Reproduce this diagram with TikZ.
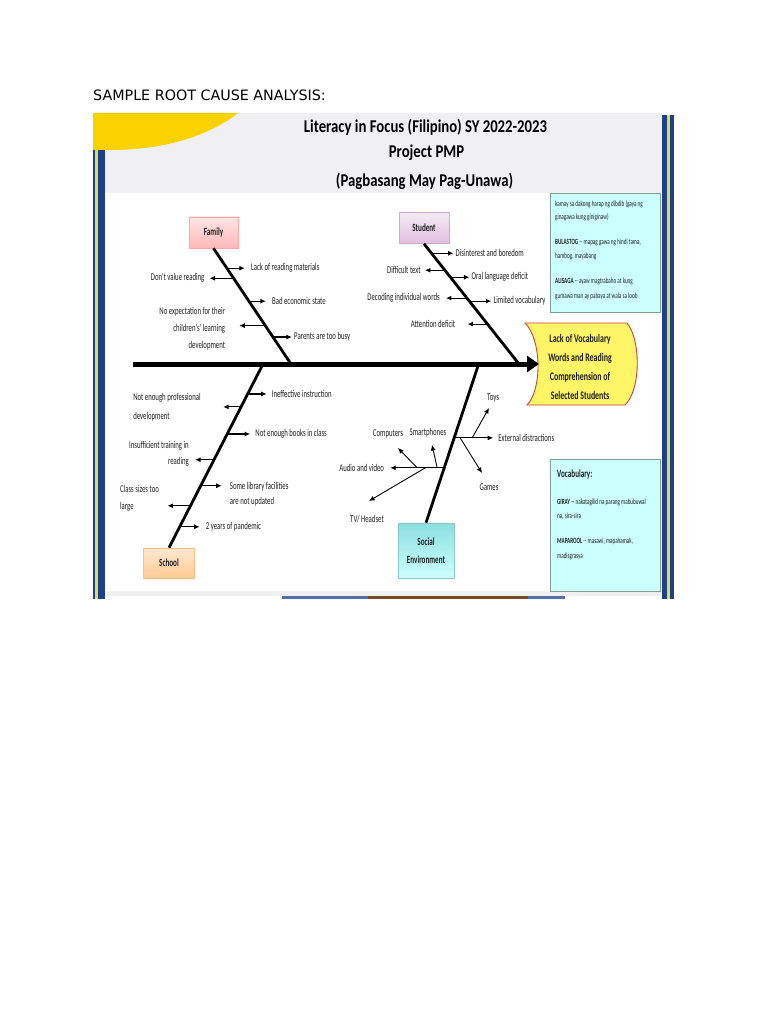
\documentclass[tikz,border=0pt]{standalone}
\usepackage{fontspec}
\setmainfont{Carlito}
\newfontfamily\cf[FakeStretch=0.65]{Carlito}
\newfontfamily\cfe[FakeStretch=0.68]{Carlito}
\newfontfamily\cft[FakeStretch=0.82]{Carlito}
\newfontfamily\hdr{DejaVu Sans}
\usetikzlibrary{arrows.meta,calc}
\definecolor{navy}{HTML}{1F3F8C}
\definecolor{bstripe}{HTML}{D9E04A}
\definecolor{topyel}{HTML}{FAD200}
\definecolor{hdrgray}{HTML}{F0F0F2}
\definecolor{effY}{HTML}{FFF566}
\definecolor{effR}{HTML}{C8423C}
\definecolor{vocF}{HTML}{CCFFFF}
\definecolor{vocD}{HTML}{7FA08A}
\definecolor{txt}{HTML}{1E1E1E}
\tikzset{
  lbl/.style={font=\cf\fontsize{10.4}{17}\selectfont, inner sep=0pt, text=txt},
  arr/.style={-{Latex[length=5.5pt,width=5pt]}, line width=1.1pt},
  sarr/.style={-{Latex[length=5.5pt,width=5pt]}, line width=0.9pt},
  bone/.style={line width=2.8pt},
  catbox/.style={draw, line width=0.6pt, inner sep=0pt, align=center,
    font=\cf\bfseries\fontsize{11}{18}\selectfont, text=txt},
  vtext/.style={font=\cf\fontsize{7.9}{14}\selectfont, inner sep=0pt, anchor=base west, align=left, text=txt},
  ttl/.style={font=\cft\bfseries\fontsize{18}{20}\selectfont, inner sep=0pt, text=black}
}
\begin{document}
\begin{tikzpicture}[x=1pt,y=-1pt]
\useasboundingbox (0,0) rectangle (768,1024);
\fill[white] (0,0) rectangle (768,1024);

% header line
\node[font=\hdr\fontsize{14.3}{16}\selectfont, anchor=base west, inner sep=0pt] (hdr) at (93,101) {SAMPLE ROOT CAUSE ANALYSIS:};

% picture frame
\fill[hdrgray] (93,113) rectangle (662,193);
\fill[topyel] (93,113) -- (238,113) .. controls (206,138) and (160,150) .. (110,150) -- (93,150) -- cycle;
\fill[white] (104,193) rectangle (662,591);
\fill[black!6] (104,591) rectangle (662,596);
\fill[navy!75] (282,596) rectangle (565,599);
\fill[brown!60!black] (368,596) rectangle (528,599);
% left border
\fill[navy] (93,150) rectangle (105,599);
\fill[bstripe] (95.2,150) rectangle (98.3,599);
% right border
\fill[navy] (662,115) rectangle (674,599);
\fill[bstripe] (667,115) rectangle (669.5,599);

% titles
\node[ttl] (t1) at (425.5,127) {Literacy in Focus (Filipino) SY 2022-2023};
\node[ttl] (t2) at (426.5,153) {Project PMP};
\node[ttl] (t3) at (424.5,181) {(Pagbasang May Pag-Unawa)};

% vocabulary box (top)
\draw[fill=vocF, draw=vocD, line width=0.7pt] (550,193) rectangle (660,312);
\node[vtext, font=\cf\fontsize{7.9}{13}\selectfont] (v1) at (555,219.5) {kamay sa dakong harap ng dibdib (gaya ng\\ginagawa kung giniginaw)};
\node[vtext] (v2) at (555,258.5) {\textbf{BULASTOG} -- mapag gawa ng hindi tama,\\hambog, mayabang};
\node[vtext, font=\cf\fontsize{7.9}{15}\selectfont] (v3) at (555,298.5) {\textbf{ALISAGA} -- ayaw magtrabaho at kung\\gumawa man ay pabaya at wala sa loob};

% vocabulary box (bottom)
\draw[fill=vocF, draw=vocD, line width=0.7pt] (550,459) rectangle (660,591);
\node[vtext, font=\cf\bfseries\fontsize{11}{14}\selectfont] (v4) at (557,477) {Vocabulary:};
\node[vtext] (v5) at (557,518.5) {\textbf{GIRAY} -- nakatagilid na parang mabubuwal\\na, sira-sira};
\node[vtext, font=\cf\fontsize{7.9}{15}\selectfont] (v6) at (557,558.5) {\textbf{MAPAROOL} -- masawi, mapahamak,\\madisgrasya};

% effect
\draw[fill=effY, draw=effR, line width=0.9pt] (525,323) -- (627,323) .. controls (641,340) and (641,390) .. (625,405) -- (527,405) .. controls (542,390) and (542,340) .. (525,323) -- cycle;
\node[font=\cfe\bfseries\fontsize{11.6}{19}\selectfont, align=center, inner sep=0pt, text=txt] (effect) at (580,366.5) {Lack of Vocabulary\\Words and Reading\\Comprehension of\\Selected Students};
\coordinate (effL) at (539,364);

% category boxes
\node[catbox, minimum width=49pt, minimum height=31pt, top color=red!10, bottom color=red!28, draw=red!35] (fam) at (213.5,232.5) {Family};
\node[catbox, minimum width=50pt, minimum height=31pt, top color=violet!8, bottom color=violet!25, draw=violet!35] (stu) at (424,228) {Student};
\node[catbox, minimum width=51pt, minimum height=30pt, top color=orange!18, bottom color=orange!42, draw=orange!50] (sch) at (169,563) {School};
\node[catbox, minimum width=56pt, minimum height=55pt, top color=cyan!45!teal!45, bottom color=cyan!20, draw=teal!45] (soc) at (426,550.5) {Social\\Environment};

% spine
\coordinate (spineStart) at (133,364);
\draw[line width=5pt, -{Triangle[length=12pt,width=16pt]}] (spineStart) -- (effL);

% bone ends on spine
\coordinate (famEnd) at (291,364);
\coordinate (stuEnd) at (519,364);
\coordinate (schTop) at (262,366);
\coordinate (socTop) at (478,366);
\draw[bone] (fam.south) -- (famEnd);
\draw[bone] (stu.south) -- (stuEnd);
\draw[bone] (schTop) -- (sch.north);
\draw[bone] (socTop) -- (soc.north);

% ---- Family causes
\coordinate (f1) at ($(fam.south)!0.172!(famEnd)$);
\coordinate (f2) at ($(fam.south)!0.259!(famEnd)$);
\coordinate (f3) at ($(fam.south)!0.457!(famEnd)$);
\coordinate (f4) at ($(fam.south)!0.668!(famEnd)$);
\coordinate (f5) at ($(fam.south)!0.767!(famEnd)$);
\node[lbl, anchor=west] (lf1) at ([xshift=24pt]f1) {Lack of reading materials};
\node[lbl, anchor=east] (lf2) at ([xshift=-29pt]f2) {Don't value reading};
\node[lbl, anchor=west] (lf3) at ([xshift=23pt]f3) {Bad economic state};
\node[lbl, anchor=east, align=right] (lf4) at ([xshift=-40pt,yshift=-3pt]f4) {No expectation for their\\children's' learning\\development};
\node[lbl, anchor=west] (lf5) at ([xshift=21pt]f5) {Parents are too busy};
\draw[arr, shorten >=6pt] (f1) -- (lf1.west);
\draw[arr, shorten >=5pt] (f2) -- (lf2.east);
\draw[arr, shorten >=6pt] (f3) -- (lf3.west);
\draw[arr] (f4) -- ++(-26,0);
\draw[arr, shorten >=2pt] (f5) -- (lf5.west);

% ---- Student causes
\coordinate (s1) at ($(stu.south)!0.079!(stuEnd)$);
\coordinate (s2) at ($(stu.south)!0.220!(stuEnd)$);
\coordinate (s3) at ($(stu.south)!0.278!(stuEnd)$);
\coordinate (s4) at ($(stu.south)!0.452!(stuEnd)$);
\coordinate (s5) at ($(stu.south)!0.477!(stuEnd)$);
\coordinate (s6) at ($(stu.south)!0.668!(stuEnd)$);
\node[lbl, anchor=west] (ls1) at ([xshift=24pt]s1) {Disinterest and boredom};
\node[lbl, anchor=east] (ls2) at ([xshift=-24pt]s2) {Difficult text};
\node[lbl, anchor=west] (ls3) at ([xshift=21pt]s3) {Oral language deficit};
\node[lbl, anchor=east] (ls4) at ([xshift=-27pt]s4) {Decoding individual words};
\node[lbl, anchor=west] (ls5) at ([xshift=24pt]s5) {Limited vocabulary};
\node[lbl, anchor=east] (ls6) at ([xshift=-32pt]s6) {Attention deficit};
\draw[arr, shorten >=2pt] (s1) -- (ls1.west);
\draw[arr, shorten >=4pt] (s2) -- (ls2.east);
\draw[arr, shorten >=2pt] (s3) -- (ls3.west);
\draw[arr, shorten >=6pt] (s4) -- (ls4.east);
\draw[arr, shorten >=2pt] (s5) -- (ls5.west);
\draw[arr, shorten >=12pt] (s6) -- (ls6.east);

% ---- School causes
\coordinate (c1) at ($(schTop)!0.154!(sch.north)$);
\coordinate (c2) at ($(schTop)!0.225!(sch.north)$);
\coordinate (c3) at ($(schTop)!0.374!(sch.north)$);
\coordinate (c4) at ($(schTop)!0.516!(sch.north)$);
\coordinate (c5) at ($(schTop)!0.659!(sch.north)$);
\coordinate (c6) at ($(schTop)!0.769!(sch.north)$);
\coordinate (c7) at ($(schTop)!0.885!(sch.north)$);
\node[lbl, anchor=west] (lc1) at ([xshift=24pt]c1) {Ineffective instruction};
\node[lbl, anchor=west, align=left, font=\cf\fontsize{10.4}{19}\selectfont] (lc2) at ([xshift=-108pt,yshift=-0.5pt]c2) {Not enough professional\\development};
\node[lbl, anchor=west] (lc3) at ([xshift=28pt]c3) {Not enough books in class};
\node[lbl, anchor=east, align=right, font=\cf\fontsize{10.4}{16}\selectfont] (lc4) at ([xshift=-25pt,yshift=6pt]c4) {Insufficient training in\\reading};
\node[lbl, anchor=west, align=left, font=\cf\fontsize{10.4}{15}\selectfont] (lc5) at ([xshift=29pt,yshift=-8.5pt]c5) {Some library facilities\\are not updated};
\node[lbl, anchor=west, align=left] (lc6) at ([xshift=-70.5pt,yshift=7.5pt]c6) {Class sizes too\\large};
\node[lbl, anchor=west] (lc7) at ([xshift=26pt]c7) {2 years of pandemic};
\draw[arr, shorten >=5pt] (c1) -- (lc1.west);
\draw[arr] (c2) -- ++(-18,0);
\draw[arr, shorten >=5pt] (c3) -- (lc3.west);
\draw[arr] (c4) -- ++(-19,0);
\draw[arr] (c5) -- ++(21,0);
\draw[arr] (c6) -- ++(-23,0);
\draw[arr, shorten >=6pt] (c7) -- (lc7.west);

% ---- Social environment
\coordinate (rb) at ($(socTop)!0.4586!(soc.north)$);
\coordinate (lb) at ($(socTop)!0.65!(soc.north)$);
\node[lbl, anchor=west] (ext) at ([xshift=44pt]rb) {External distractions};
\draw[sarr, shorten >=5pt] (rb) -- (ext.west);
\node[lbl] (toys) at (493,398) {Toys};
\node[lbl] (games) at (489,487) {Games};
\coordinate (rb1) at ([xshift=18pt]rb);
\coordinate (rb2) at ([xshift=6pt]rb);
\coordinate (toyTip) at (489,408);
\coordinate (gamTip) at (482,473);
\draw[sarr] (rb1) -- (toyTip);
\draw[sarr] (rb2) -- (gamTip);

\node[lbl, anchor=east] (aud) at ([xshift=-60pt]lb) {Audio and video};
\draw[sarr, shorten >=6pt] (lb) -- (aud.east);
\node[lbl] (comp) at (388,434) {Computers};
\node[lbl] (smart) at (428,433) {Smartphones};
\node[lbl] (tv) at (367,519) {TV/ Headset};
\coordinate (lb1) at ([xshift=-27pt]lb);
\coordinate (lb2) at ([xshift=-7pt]lb);
\coordinate (lb3) at ([xshift=-19pt]lb);
\coordinate (compTip) at (398,448);
\coordinate (smTip) at (432,445);
\coordinate (tvTip) at (369,501);
\draw[sarr] (lb1) -- (compTip);
\draw[sarr] (lb2) -- (smTip);
\draw[sarr] (lb3) -- (tvTip);
\end{tikzpicture}
\end{document}
